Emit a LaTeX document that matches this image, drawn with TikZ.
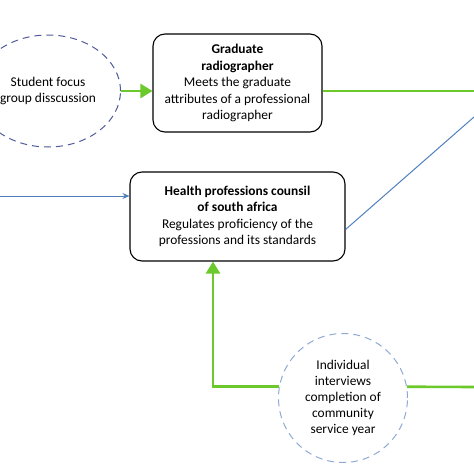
\documentclass[tikz,border=0pt]{standalone}
\usepackage{fontspec}
\setmainfont{Carlito}
\usetikzlibrary{calc}
\usetikzlibrary{shapes}
\usetikzlibrary{positioning}
\usetikzlibrary{arrows.meta}

\definecolor{lgreen}{HTML}{6CC92B}
\definecolor{lblue}{HTML}{4F80BD}
\definecolor{dblue}{HTML}{4F5B9A}
\definecolor{pblue}{HTML}{8FA9D4}

\begin{document}
\begin{tikzpicture}[x=1pt,y=-1pt]
    \tikzstyle{box}=[draw, rounded corners=12pt, line width=1.1pt, align=center, font=\fontsize{13.4}{16.5}\selectfont];
    \tikzstyle{oval}=[draw, dashed, dash pattern=on 7pt off 5pt, line width=1pt, align=center, font=\fontsize{13.4}{16.2}\selectfont];
    \tikzstyle{garrow}=[draw=lgreen, line width=2.6pt, -{Triangle[length=12pt,width=14pt]}];
    \tikzstyle{gline}=[draw=lgreen, line width=2.6pt];
    \useasboundingbox (0,0) rectangle (474,474);
    \clip (0,0) rectangle (474,474);
    % nodes
    \node[oval, ellipse, dblue, text=black, minimum width=142pt, minimum height=112pt] (sfg) at (48,91) {Student focus\\group disscussion};
    \node[box, minimum width=169pt, minimum height=98pt] (grad) at (237.5,83) {\textbf{Graduate}\\\textbf{radiographer}\\Meets the graduate\\attributes of a professional\\radiographer};
    \node[box, minimum width=215pt, minimum height=89pt] (hpcsa) at (237.5,216.5) {\textbf{Health professions counsil}\\\textbf{of south africa}\\Regulates proficiency of the\\professions and its standards};
    \node[oval, circle, pblue, text=black, minimum size=129pt, inner sep=0pt] (isy) at (343,398) {Individual\\interviews\\completion of\\community\\service year};
    \coordinate (eG) at (474,91);
    \coordinate (eB) at (474,117);
    \coordinate (wB) at (0,196);
    \coordinate (eI) at (474,387);
    % connectors
    \draw[garrow] (sfg.east) -- (sfg.east -| grad.west);
    \draw[gline] (eG -| grad.east) -- (eG);
    \draw[lblue, line width=1pt] ([yshift=-13pt]hpcsa.east) -- (eB);
    \draw[lblue, line width=1pt, -{Stealth[length=7pt,width=6pt]}] (wB) -- (wB -| hpcsa.west);
    \draw[garrow] (isy.170) -| ([xshift=-24.5pt]hpcsa.south);
    \draw[gline] (isy.10) -- (eI);
\end{tikzpicture}
\end{document}
